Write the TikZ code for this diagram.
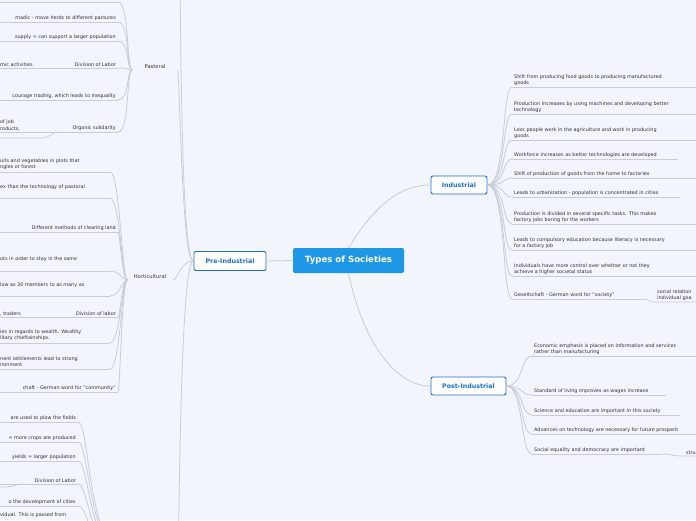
\documentclass[tikz,border=0pt]{standalone}
\usepackage{fontspec}
\setmainfont{DejaVu Sans}
\definecolor{bg}{HTML}{F3F5FC}
\definecolor{ln}{HTML}{C9CCD4}
\definecolor{tx}{HTML}{333333}
\definecolor{bl}{HTML}{1E98E6}
\definecolor{bd}{HTML}{1F6FC5}
\tikzset{
 con/.style={draw=ln,line width=0.8pt},
 leaf/.style={font=\fontsize{4.9}{6.4}\selectfont,text=tx,inner xsep=2pt,inner ysep=1.2pt,align=left},
 leafr/.style={leaf,align=right},
 sub/.style={font=\fontsize{5.2}{6.4}\selectfont,text=tx,inner sep=1.2pt,minimum width=45pt},
 mainbox/.style={draw=bd,fill=white,rounded corners=2pt,line width=0.9pt,text=bd,font=\fontsize{6.3}{7}\selectfont\bfseries,minimum height=19pt,inner xsep=5pt},
}
\newcommand\rleaf[5]{\node[leaf,anchor=south west] (#1) at (#2,#3) {#5};\draw[con] (#1.south west) -- (#4,#3);}
\newcommand\lleaf[3]{\node[leafr,anchor=south east] (#1) at (118,#2) {#3};\draw[con] (#1.south east) -- (-5,#2);}
% left leaf whose text block is left aligned, cut at the picture's left edge
\newcommand\lleafx[4]{\coordinate (#1) at (#2,#3);\node[leaf,anchor=south east] (#1t) at (#4,#3) {#2};}
\newcommand\aleaf[3]{\node[leafr,anchor=south east] (#1) at (78,#2) {#3};\draw[con] (#1.south east) -- (-5,#2);}
\begin{document}
\begin{tikzpicture}[x=1pt,y=-1pt]
\fill[bg] (0,0) rectangle (696,520);
\clip (0,0) rectangle (696,520);
\useasboundingbox (0,0) rectangle (696,520);
% main nodes
\node[fill=bl,rounded corners=2pt,text=white,font=\fontsize{8.6}{10}\selectfont\bfseries,minimum width=111pt,minimum height=25pt] (root) at (348.5,260.5) {Types of Societies};
\node[mainbox,minimum width=72pt] (pre) at (230,261) {Pre-Industrial};
\node[mainbox,minimum width=56pt,minimum height=18pt] (ind) at (459,185) {Industrial};
\node[mainbox,minimum width=75pt,minimum height=18pt] (post) at (468.5,386) {Post-Industrial};
\draw[con] (root.west) -- (pre.east);
\draw[con] (root.north) .. controls (375,205) and (400,185) .. (ind.west);
\draw[con] (root.south) .. controls (360,330) and (390,386) .. (post.west);
% pre-industrial sub categories
\node[sub,anchor=south] (past) at (155,70) {Pastoral};
\node[sub,anchor=south] (hort) at (150,280) {Horticultural};
\coordinate (hunt) at (180,-20);
\coordinate (agri) at (178,560);
\coordinate (agrw) at (130,560);
\draw[con] (pre.west) .. controls (182,261) and (180,90) .. (past.south east);
\draw[con] (pre.west) .. controls (182,261) and (181,60) .. (hunt);
\draw[con] (pre.west) .. controls (180,261) and (178,280) .. (hort.south east);
\draw[con] (pre.west) .. controls (182,261) and (180,450) .. (agri);
% pastoral leaves
\lleaf{p1}{2}{}
\lleaf{p2}{22}{madic - move herds to different pastures}
\lleaf{p3}{41}{supply = can support a larger population}
\lleaf{p4}{68}{Division of Labor}
\node[leaf,anchor=south west] (p4a) at (-2,68) {mic activities};
\lleaf{p5}{100}{courage trading, which leads to inequality}
\lleaf{p6}{132}{Organic solidarity}
\node[leaf,anchor=south west] (p6a) at (-2,132) {of job\\roducts,};
\draw[con] (60,132) .. controls (50,132) and (52,138) .. (40,138) -- (-5,138);
\foreach \n in {p1,p2,p3,p4,p5,p6}{\draw[con] (past.south west) .. controls (126,70) and (130,0 |- \n.south east) .. (\n.south east);}
% horticultural leaves
\node[leaf,anchor=south west] (h1t) at (-2,171) {uits and vegetables in plots that\\ngles or forest};
\node[leaf,anchor=south west] (h2t) at (-2,191) {ex than the technology of pastoral};
\lleaf{h3}{232}{Different methods of clearing land}
\node[leaf,anchor=south west] (h4t) at (-2,263) {ots in order to stay in the same};
\node[leaf,anchor=south west] (h5t) at (-2,289) {low as 30 members to as many as};
\lleaf{h6}{317}{Division of labor}
\node[leaf,anchor=south west] (h6a) at (-2,317) {, traders};
\node[leaf,anchor=south west] (h7t) at (-2,342) {ies in regards to wealth. Wealthy\\litary chieftainships.};
\node[leaf,anchor=south west] (h8t) at (-2,368) {nent settlements lead to strong\\ironment};
\lleaf{h9}{392}{chaft - German word for "community"}
\foreach \y in {172,198,271,296,343,369}{\coordinate (hy\y) at (110,\y);\draw[con] (hy\y) -- (-5,\y);}
\foreach \n in {hy172,hy198,h3.south east,hy271,hy296,h6.south east,hy343,hy369,h9.south east}{\draw[con] (hort.south west) .. controls (122,280) and (120,0 |- \n) .. (\n);}
% agricultural leaves
\aleaf{a1}{422}{are used to plow the fields}
\aleaf{a2}{442}{= more crops are produced}
\aleaf{a3}{461}{yields = larger population}
\aleaf{a4}{484}{Division of Labor}
\draw[con] (24,484) .. controls (14,484) and (16,487) .. (4,487) -- (-5,487);
\aleaf{a5}{506}{o the development of cities}
\node[leaf,anchor=south west] (a6t) at (-2,524) {vidual. This is passed from\\\phantom{x}};
\coordinate (a6) at (78,527);
\draw[con] (a6) -- (-5,527);
\foreach \n in {a1.south east,a2.south east,a3.south east,a4.south east,a5.south east,a6}{\draw[con] (agrw) .. controls (88,560) and (90,0 |- \n) .. (\n);}
% industrial leaves
\rleaf{i1}{512}{87}{700}{Shift from producing food goods to producing manufactured\\goods}
\rleaf{i2}{512}{114}{700}{Production increases by using machines and developing better\\technology}
\rleaf{i3}{512}{140}{700}{Less people work in the agriculture and work in producing\\goods}
\rleaf{i4}{512}{159}{678}{Workforce increases as better technologies are developed}
\rleaf{i5}{512}{178}{700}{Shift of production of goods from the home to factories}
\rleaf{i6}{512}{197}{680}{Leads to urbanization - population is concentrated in cities}
\rleaf{i7}{512}{224}{700}{Production is divided in several specific tasks. This makes\\factory jobs boring for the workers}
\rleaf{i8}{512}{250}{700}{Leads to compulsory education because literacy is necessary\\for a factory job}
\rleaf{i9}{512}{276}{700}{Individuals have more control over whether or not they\\achieve a higher societal status}
\rleaf{i10}{512}{299}{643}{Gesellschaft - German word for "society"}
\node[leaf,anchor=south west] (i10a) at (655,302) {social relation\\individual goa};
\draw[con] (643,299) .. controls (650,299) and (648,302) .. (i10a.south west) -- (700,302);
\foreach \n in {i1,i2,i3,i4,i5,i6,i7,i8,i9,i10}{\draw[con] (ind.east) .. controls (506,185) and (502,0 |- \n.south west) .. (\n.south west);}
% post-industrial leaves
\rleaf{q1}{532}{356}{700}{Economic emphasis is placed on information and services\\rather than manufacturing}
\rleaf{q2}{532}{395}{666}{Standard of living improves as wages increase}
\rleaf{q3}{532}{415}{680}{Science and education are important in this society}
\rleaf{q4}{532}{434}{700}{Advances on technology are necessary for future prosperit}
\rleaf{q5}{532}{454}{662}{Social equality and democracy are important}
\node[leaf,anchor=south west] (q5a) at (684,456) {stru};
\draw[con] (662,454) .. controls (672,454) and (670,456) .. (q5a.south west) -- (700,456);
\foreach \n in {q1,q2,q3,q4,q5}{\draw[con] (post.east) .. controls (524,386) and (520,0 |- \n.south west) .. (\n.south west);}
\end{tikzpicture}
\end{document}
